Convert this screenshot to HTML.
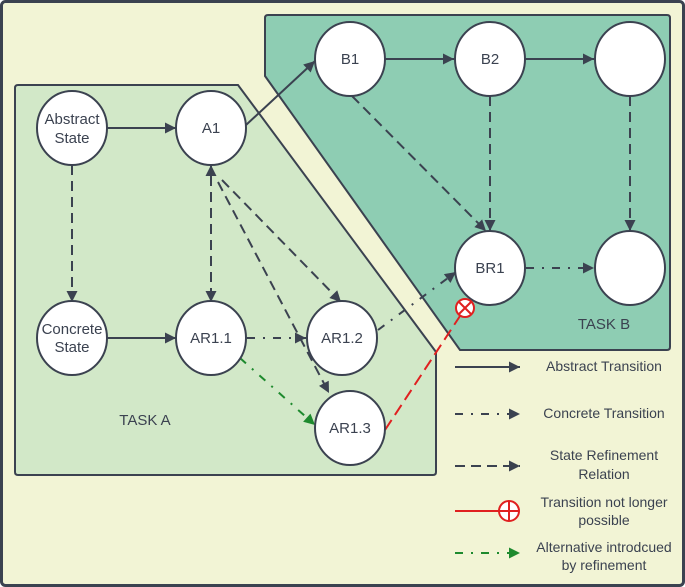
<!DOCTYPE html>
<html><head><meta charset="utf-8"><style>
html,body{margin:0;padding:0;background:#fff}
svg{display:block}
text{font-family:"Liberation Sans",sans-serif;fill:#3b4250}
</style></head><body>
<svg width="685" height="587" viewBox="0 0 685 587" xmlns="http://www.w3.org/2000/svg">
<defs>
<marker id="ar" viewBox="0 0 10 10" refX="10" refY="5" markerWidth="12" markerHeight="11" markerUnits="userSpaceOnUse" orient="auto"><path d="M0,0 L10,5 L0,10 z" fill="#3b4250"/></marker>
<marker id="ag" viewBox="0 0 10 10" refX="10" refY="5" markerWidth="12" markerHeight="11" markerUnits="userSpaceOnUse" orient="auto"><path d="M0,0 L10,5 L0,10 z" fill="#1e8a2e"/></marker>
</defs>
<rect x="1.5" y="1.5" width="682" height="584" rx="4" fill="#f2f4d5" stroke="#3b4250" stroke-width="3"/>
<path d="M18,85 L238,85 L436,352 L436,472 Q436,475 433,475 L18,475 Q15,475 15,472 L15,88 Q15,85 18,85 Z" fill="#d2e8c8" stroke="#3b4250" stroke-width="2"/>
<path d="M268,15 L667,15 Q670,15 670,18 L670,347 Q670,350 667,350 L460,350 L265,76 L265,18 Q265,15 268,15 Z" fill="#8ecdb3" stroke="#3b4250" stroke-width="2"/>
<g stroke="#3b4250" stroke-width="2" fill="none">
<line x1="107" y1="128" x2="176" y2="128" marker-end="url(#ar)"/>
<line x1="246" y1="125" x2="315" y2="61" marker-end="url(#ar)"/>
<line x1="385" y1="59" x2="454" y2="59" marker-end="url(#ar)"/>
<line x1="525" y1="59" x2="594" y2="59" marker-end="url(#ar)"/>
<line x1="107" y1="338" x2="176" y2="338" marker-end="url(#ar)"/>
<g stroke-dasharray="10,6">
<line x1="72" y1="165" x2="72" y2="302" marker-end="url(#ar)"/>
<line x1="211" y1="176" x2="211" y2="302" marker-end="url(#ar)"/>
<line x1="211" y1="176" x2="211" y2="165" marker-end="url(#ar)"/>
<line x1="222" y1="180" x2="341" y2="302" marker-end="url(#ar)"/>
<line x1="218" y1="182" x2="329" y2="393" marker-end="url(#ar)"/>
<line x1="352" y1="96" x2="486" y2="231" marker-end="url(#ar)"/>
<line x1="490" y1="96" x2="490" y2="231" marker-end="url(#ar)"/>
<line x1="630" y1="96" x2="630" y2="231" marker-end="url(#ar)"/>
</g>
<g stroke-dasharray="8,8,2,8">
<line x1="247" y1="338" x2="306" y2="338" marker-end="url(#ar)"/>
<line x1="378" y1="330" x2="456" y2="272" marker-end="url(#ar)"/>
<line x1="526" y1="268" x2="594" y2="268" marker-end="url(#ar)"/>
</g>
<line x1="240" y1="358" x2="315" y2="425" stroke="#1e8a2e" stroke-dasharray="8,8,2,8" marker-end="url(#ag)"/>
<line x1="385" y1="430" x2="460" y2="316" stroke="#e02020" stroke-dasharray="12,6"/>
</g>
<g fill="#fff" stroke="#3b4250" stroke-width="2">
<ellipse cx="72" cy="128" rx="35" ry="37"/>
<ellipse cx="211" cy="128" rx="35" ry="37"/>
<ellipse cx="350" cy="59" rx="35" ry="37"/>
<ellipse cx="490" cy="59" rx="35" ry="37"/>
<ellipse cx="630" cy="59" rx="35" ry="37"/>
<ellipse cx="490" cy="268" rx="35" ry="37"/>
<ellipse cx="630" cy="268" rx="35" ry="37"/>
<ellipse cx="72" cy="338" rx="35" ry="37"/>
<ellipse cx="211" cy="338" rx="35" ry="37"/>
<ellipse cx="342" cy="338" rx="35" ry="37"/>
<ellipse cx="350" cy="428" rx="35" ry="37"/>
</g>
<g stroke="#e02020" stroke-width="2" fill="#fff">
<circle cx="465" cy="308" r="9"/>
<line x1="459" y1="302" x2="471" y2="314"/><line x1="471" y1="302" x2="459" y2="314"/>
</g>
<g font-size="15" text-anchor="middle">
<text x="72" y="124">Abstract</text><text x="72" y="143">State</text>
<text x="211" y="133">A1</text>
<text x="350" y="64">B1</text>
<text x="490" y="64">B2</text>
<text x="490" y="273">BR1</text>
<text x="72" y="334">Concrete</text><text x="72" y="352">State</text>
<text x="211" y="343">AR1.1</text>
<text x="342" y="343">AR1.2</text>
<text x="350" y="433">AR1.3</text>
<text x="145" y="425">TASK A</text>
<text x="604" y="329">TASK B</text>
</g>
<g stroke-width="2" fill="none">
<line x1="455" y1="367" x2="520" y2="367" stroke="#3b4250" marker-end="url(#ar)"/>
<line x1="455" y1="414" x2="520" y2="414" stroke="#3b4250" stroke-dasharray="8,8,2,8" marker-end="url(#ar)"/>
<line x1="455" y1="466" x2="520" y2="466" stroke="#3b4250" stroke-dasharray="10,6" marker-end="url(#ar)"/>
<line x1="455" y1="511" x2="500" y2="511" stroke="#e02020"/>
<circle cx="509" cy="511" r="10" stroke="#e02020" fill="#fff"/>
<line x1="499" y1="511" x2="519" y2="511" stroke="#e02020"/><line x1="509" y1="501" x2="509" y2="521" stroke="#e02020"/>
<line x1="455" y1="553" x2="520" y2="553" stroke="#1e8a2e" stroke-dasharray="8,8,2,8" marker-end="url(#ag)"/>
</g>
<g font-size="14" text-anchor="middle">
<text x="604" y="371">Abstract Transition</text>
<text x="604" y="418">Concrete Transition</text>
<text x="604" y="460">State Refinement</text><text x="604" y="479">Relation</text>
<text x="604" y="507">Transition not longer</text><text x="604" y="525">possible</text>
<text x="604" y="552">Alternative introdcued</text><text x="604" y="570">by refinement</text>
</g>
</svg>
</body></html>
